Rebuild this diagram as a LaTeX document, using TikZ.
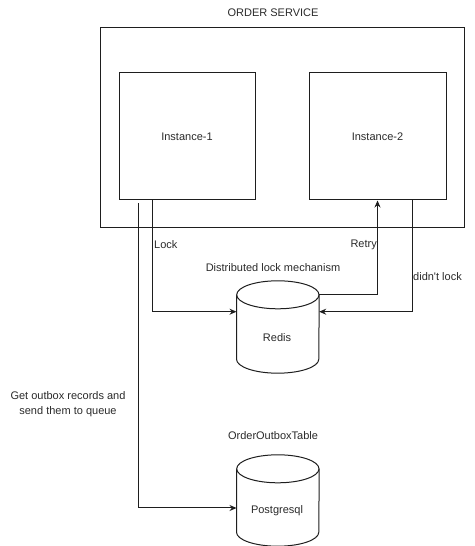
\documentclass[tikz,border=0pt]{standalone}
\usepackage{fontspec}
\setmainfont{Liberation Sans}
\usetikzlibrary{arrows.meta}
\definecolor{ink}{HTML}{1E1E1E}
\definecolor{txt}{HTML}{2A2A2A}
\tikzset{
  box/.style={draw=ink, line width=1pt, rectangle, inner sep=0pt, text=txt},
  body/.style={inner sep=0pt, rectangle, text=txt},
  lbl/.style={inner sep=0pt, text=txt, font=\fontsize{11}{15}\selectfont},
  arr/.style={draw=ink, line width=1pt, -{Stealth[length=7pt,width=6pt]}},
  plain/.style={draw=ink, line width=1pt},
}
\newcommand{\mycyl}[2]{%
  \fill[white] (#1.north west) -- (#1.south west) arc[start angle=180,end angle=360,x radius=#2,y radius=14] -- (#1.north east) -- cycle;
  \draw[plain] (#1.north west) -- (#1.south west) arc[start angle=180,end angle=360,x radius=#2,y radius=14] -- (#1.north east);
  \draw[plain, fill=white] (#1.north) ellipse[x radius=#2, y radius=14];
}
\begin{document}
\begin{tikzpicture}[x=1pt,y=1pt, font=\fontsize{11}{13}\selectfont]
\useasboundingbox (0,0) rectangle (474,546);
% outer service box
\node[box, minimum width=364pt, minimum height=200pt] (svc) at (282,418) {};
\node[lbl] (svct) at (273,533) {ORDER SERVICE};
% instances
\node[box, minimum width=136pt, minimum height=127pt] (inst1) at (187,409.5) {Instance-1};
\node[box, minimum width=137pt, minimum height=127pt] (inst2) at (377.5,409.5) {Instance-2};
% cylinder bodies
\node[body, minimum width=82.3pt, minimum height=64pt] (redis) at (277.85,219) {};
\node[body, minimum width=82.3pt, minimum height=63pt] (pg) at (277.85,45.5) {};
\mycyl{redis}{41.15}
\mycyl{pg}{41.15}
\node[lbl] (redist) at (277,208) {Redis};
\node[lbl] (pgt) at (277,35) {Postgresql};
% labels
\node[lbl, anchor=west] (lockl) at (154,301) {Lock};
\node[lbl, anchor=east] (retryl) at (377,301) {Retry};
\node[lbl] (dlm) at (273,278) {Distributed lock mechanism};
\node[lbl, anchor=west] (dlock) at (413,269) {didn\textquotesingle t lock};
\node[lbl] (oot) at (273,110) {OrderOutboxTable};
\node[lbl, align=center] (getl) at (68,141.5) {Get outbox records and\\send them to queue};
% connectors
\draw[arr] ([xshift=33.7pt]inst1.south west) |- ([yshift=15.3pt]redis.west);
\draw[arr] (redis.north east) -| (inst2.south);
\draw[arr] ([xshift=-34pt]inst2.south east) |- ([yshift=15.3pt]redis.east);
\draw[arr] ([xshift=20pt,yshift=-3pt]inst1.south west) |- ([yshift=-7.5pt]pg.west);
\end{tikzpicture}
\end{document}
